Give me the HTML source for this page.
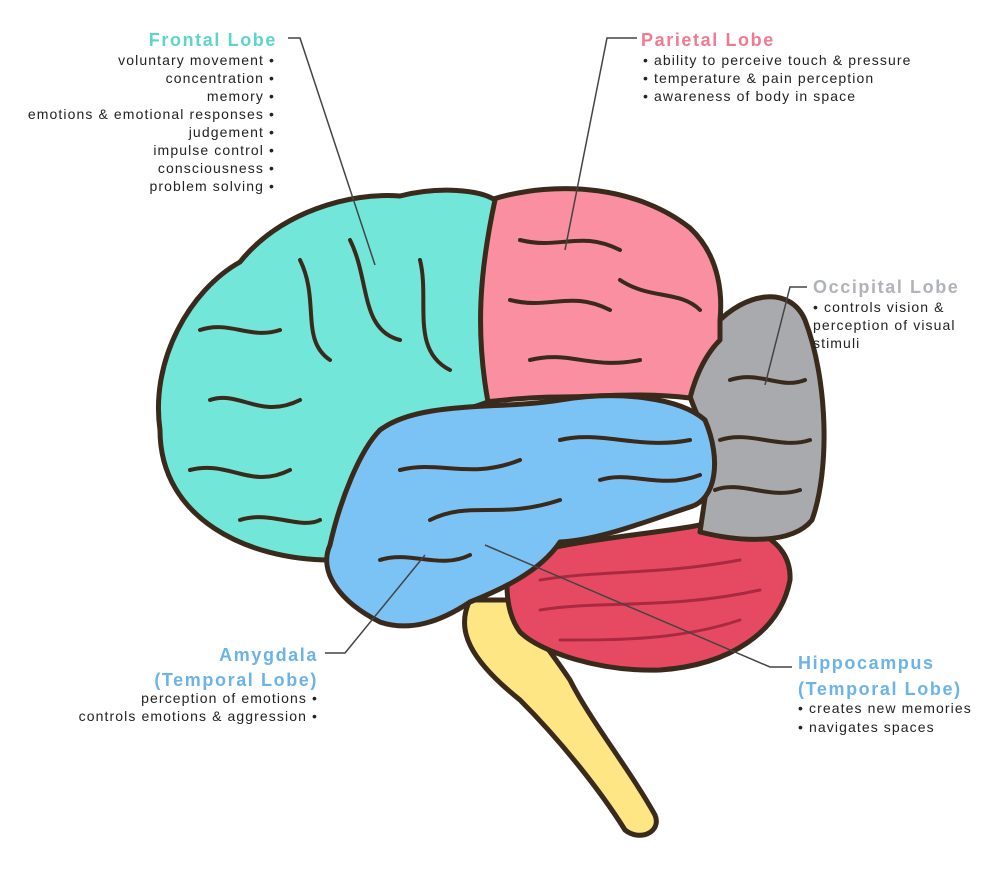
<!DOCTYPE html>
<html><head><meta charset="utf-8"><style>
html,body{margin:0;padding:0;background:#fff}
svg{display:block}
text{font-family:"Liberation Sans",sans-serif}
.t{font-weight:bold;font-size:18px;letter-spacing:1.6px}
.b{font-size:14px;fill:#222;letter-spacing:1.1px}
</style></head><body>
<svg width="1000" height="873" viewBox="0 0 1000 873">
<g stroke="#3a2a1c" stroke-width="5" stroke-linejoin="round">
<path d="M470,600 C455,630 470,660 520,700 C560,740 600,790 625,830 C640,842 662,832 655,815 C630,770 590,720 570,680 C550,650 525,620 515,600 Z" fill="#fde683"/>
<path d="M510,560 C560,540 650,535 700,525 C750,520 792,540 790,580 C780,632 730,665 660,670 C600,672 540,652 520,632 C505,612 505,580 510,560 Z" fill="#e64a62"/>
<path d="M715,325 C745,292 790,285 805,320 C828,380 830,470 812,520 C792,545 740,542 700,532 L712,450 C700,420 690,400 690,395 Z" fill="#a9aaad"/>
<path d="M490,200 C560,178 640,188 690,228 C722,258 722,300 720,320 L720,340 C700,360 692,390 690,398 C640,392 600,397 560,397 C520,397 492,402 480,402 C468,330 470,270 490,200 Z" fill="#f98fa0"/>
<path d="M330,560 C250,560 160,520 160,430 C150,360 190,290 240,262 C280,212 350,192 400,196 C440,186 480,190 495,200 C480,270 475,330 488,402 C440,420 400,420 380,430 C350,470 340,510 330,560 Z" fill="#72e6d8"/>
<path d="M380,430 C420,400 500,410 560,400 C620,390 680,398 705,420 C722,460 716,500 690,507 C650,520 600,540 560,542 C540,572 500,590 470,602 C440,622 410,632 380,622 C340,602 318,572 330,545 C340,500 360,450 380,430 Z" fill="#7cc3f5"/>
</g>
<g fill="none" stroke="#3a2a1c" stroke-width="4" stroke-linecap="round">
<path d="M200,330 C230,320 250,340 280,330 M210,400 C240,390 260,420 300,400 M190,470 C230,460 250,490 290,470 M300,260 C320,300 300,340 330,360 M350,240 C370,280 360,330 400,340 M420,260 C430,300 410,350 450,370 M240,520 C270,510 300,530 320,520"/>
<path d="M520,240 C560,250 580,230 620,250 M510,300 C550,310 570,290 610,310 M620,280 C650,300 680,290 700,310 M530,360 C570,350 590,370 640,360"/>
<path d="M730,380 C760,370 780,390 805,380 M720,440 C750,430 780,450 810,440 M715,490 C740,480 770,500 800,490"/>
<path d="M400,470 C440,460 470,480 520,460 M430,520 C470,500 500,520 560,500 M560,440 C600,430 640,450 690,440 M600,480 C630,470 660,490 700,475 M380,560 C410,550 440,570 470,555"/>
<path d="M540,580 C600,570 660,575 740,560 M540,610 C600,600 670,610 760,590 M560,640 C620,640 680,640 740,620" stroke="#a82a40" stroke-width="3"/>
</g>
<g fill="none" stroke="#444" stroke-width="1.5">
<polyline points="288,38 300,38 375,265"/>
<polyline points="637,38 607,38 565,250"/>
<polyline points="807,287 790,287 765,385"/>
<polyline points="325,653 345,653 425,555"/>
<polyline points="792,667 770,667 485,545"/>
</g>
<text class="t" x="277" y="46" text-anchor="end" fill="#5cd6c8">Frontal Lobe</text>
<g class="b" text-anchor="end">
<text x="275" y="65">voluntary movement •</text>
<text x="275" y="83">concentration •</text>
<text x="275" y="101">memory •</text>
<text x="275" y="119">emotions &amp; emotional responses •</text>
<text x="275" y="137">judgement •</text>
<text x="275" y="155">impulse control •</text>
<text x="275" y="173">consciousness •</text>
<text x="275" y="191">problem solving •</text>
</g>
<text class="t" x="641" y="46" fill="#f27a90">Parietal Lobe</text>
<g class="b">
<text x="643" y="65">• ability to perceive touch &amp; pressure</text>
<text x="643" y="83">• temperature &amp; pain perception</text>
<text x="643" y="101">• awareness of body in space</text>
</g>
<text class="t" x="813" y="293" fill="#b0b3b8">Occipital Lobe</text>
<g class="b">
<text x="813" y="312">• controls vision &amp;</text>
<text x="813" y="330">perception of visual</text>
<text x="813" y="348">stimuli</text>
</g>
<text class="t" x="318" y="661" text-anchor="end" fill="#6ab4e8">Amygdala</text>
<text class="t" x="318" y="686" text-anchor="end" fill="#6ab4e8">(Temporal Lobe)</text>
<g class="b" text-anchor="end">
<text x="318" y="703">perception of emotions •</text>
<text x="318" y="721">controls emotions &amp; aggression •</text>
</g>
<text class="t" x="798" y="669" fill="#6ab4e8">Hippocampus</text>
<text class="t" x="798" y="695" fill="#6ab4e8">(Temporal Lobe)</text>
<g class="b">
<text x="798" y="713">• creates new memories</text>
<text x="798" y="732">• navigates spaces</text>
</g>
</svg>
</body></html>
